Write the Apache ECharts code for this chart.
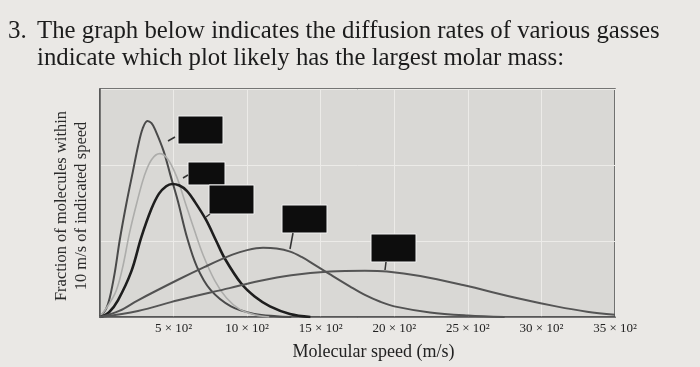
<!DOCTYPE html>
<html>
<head>
<meta charset="utf-8">
<script src="https://cdn.jsdelivr.net/npm/echarts@6/dist/echarts.min.js"></script>
<style>
html,body{margin:0;padding:0;background:#eae8e5;}
#c{width:700px;height:367px;}
</style>
</head>
<body>
<div id="c"></div>
<script>
// Tick labels along the speed axis (m/s)
const xTicks = [500, 1000, 1500, 2000, 2500, 3000, 3500];
const xTickLabels = ['5 × 10²', '10 × 10²', '15 × 10²', '20 × 10²', '25 × 10²', '30 × 10²', '35 × 10²'];

// Curves: [speed (m/s), fraction (relative units)]
const curveA = [[0,0],[40,0.1],[66,0.25],[100,0.58],[134,1.01],[180,1.5],[224,1.92],[260,2.26],[290,2.48],[322,2.58],[350,2.55],[376,2.46],[433,2.18],[478,1.87],[530,1.52],[591,1.05],[659,0.66],[750,0.36],[890,0.14],[1051,0.04],[1200,0.01],[1300,0]];
const curveB = [[0,0],[100,0.3],[150,0.62],[200,1.1],[250,1.5],[300,1.85],[350,2.07],[406,2.15],[460,2.08],[520,1.85],[580,1.5],[640,1.15],[700,0.82],[780,0.48],[860,0.25],[950,0.1],[1050,0.03],[1150,0]];
const curveC = [[0,0],[60,0.06],[122,0.22],[213,0.6],[281,1.05],[349,1.42],[400,1.62],[450,1.72],[490,1.75],[540,1.73],[590,1.66],[643,1.52],[720,1.28],[790,1.0],[848,0.77],[960,0.44],[1051,0.27],[1155,0.14],[1291,0.04],[1430,0]];
const curveD = [[0,0],[130,0.08],[258,0.22],[530,0.49],[712,0.66],[900,0.82],[1000,0.88],[1108,0.91],[1200,0.9],[1292,0.86],[1370,0.79],[1448,0.7],[1564,0.56],[1700,0.4],[1800,0.29],[1905,0.2],[2000,0.14],[2243,0.06],[2500,0.02],[2750,0]];
const curveE = [[0,0],[258,0.08],[530,0.22],[880,0.38],[1074,0.47],[1300,0.55],[1564,0.6],[1800,0.61],[1950,0.6],[2176,0.54],[2467,0.42],[2854,0.24],[3100,0.14],[3310,0.07],[3500,0.03]];

const seriesList = [
  {name:'A', data:curveA, color:'#4a4a4a', width:2},
  {name:'B', data:curveB, color:'#adadab', width:1.6},
  {name:'C', data:curveC, color:'#1e1e1e', width:2.6},
  {name:'D', data:curveD, color:'#525252', width:2},
  {name:'E', data:curveE, color:'#555555', width:2}
];

const chart = echarts.init(document.getElementById('c'));
const serif = '"Liberation Serif", "DejaVu Serif", serif';

// Redaction boxes and their leader marks (annotations)
const boxes = [[178,116,45,28],[188,162,37,23],[209,185,45,29],[282,205,45,28],[371,234,45,28]];
const leaders = [[[175,137],[168,141]],[[188,175],[183,178]],[[210,214],[206,217]],[[293,233],[290,249]],[[386,262],[385,270]]];
const graphics = [];
boxes.forEach(b => graphics.push({type:'rect', shape:{x:b[0], y:b[1], width:b[2], height:b[3]}, style:{fill:'#0d0d0d', stroke:'#f2f2f2', lineWidth:1}, z:100}));
leaders.forEach(l => graphics.push({type:'line', shape:{x1:l[0][0], y1:l[0][1], x2:l[1][0], y2:l[1][1]}, style:{stroke:'#333', lineWidth:1.5}, z:100}));
graphics.push({type:'text', x:8, y:31, style:{text:'3.', font:'25px ' + serif, fill:'#1c1c1c', textVerticalAlign:'middle'}});
graphics.push({type:'text', x:37, y:31, style:{text:'The graph below indicates the diffusion rates of various gasses', font:'24.8px ' + serif, fill:'#1c1c1c', textVerticalAlign:'middle'}});
graphics.push({type:'text', x:37, y:58, style:{text:'indicate which plot likely has the largest molar mass:', font:'24.8px ' + serif, fill:'#1c1c1c', textVerticalAlign:'middle'}});
graphics.push({type:'text', x:72, y:206, rotation:Math.PI/2, originX:0, originY:0, style:{text:'Fraction of molecules within\n10 m/s of indicated speed', font:'16.5px ' + serif, lineHeight:20, fill:'#2a2a2a', textAlign:'center', textVerticalAlign:'middle'}});

chart.setOption({
  backgroundColor:'#eae8e5',
  animation:false,
  grid:{left:100, right:85, top:89, bottom:50, show:true, backgroundColor:'#d9d8d5', borderColor:'#4f4f4f', borderWidth:1.5},
  xAxis:{
    type:'value', min:0, max:3500, interval:500,
    axisLine:{show:true, lineStyle:{color:'#4f4f4f', width:1.5}},
    axisTick:{show:false},
    splitLine:{show:true, lineStyle:{color:'#ecebe8', width:1}},
    axisLabel:{margin:5, fontFamily:serif, fontSize:13, color:'#222',
      formatter:function(v){const i = xTicks.indexOf(v); return i >= 0 ? xTickLabels[i] : '';}},
    name:'Molecular speed (m/s)', nameLocation:'middle', nameGap:26,
    nameTextStyle:{fontFamily:serif, fontSize:18, color:'#222', padding:[0,0,0,32]}
  },
  yAxis:{
    type:'value', min:0, max:3, interval:1,
    axisLine:{show:true, lineStyle:{color:'#4f4f4f', width:1.5}},
    axisTick:{show:false}, axisLabel:{show:false},
    splitLine:{show:true, lineStyle:{color:'#ecebe8', width:1}}
  },
  series: seriesList.map(s => ({
    type:'line', name:s.name, data:s.data, smooth:0.35, showSymbol:false,
    lineStyle:{color:s.color, width:s.width}, itemStyle:{color:s.color}
  })),
  graphic: graphics
});
</script>
</body>
</html>
